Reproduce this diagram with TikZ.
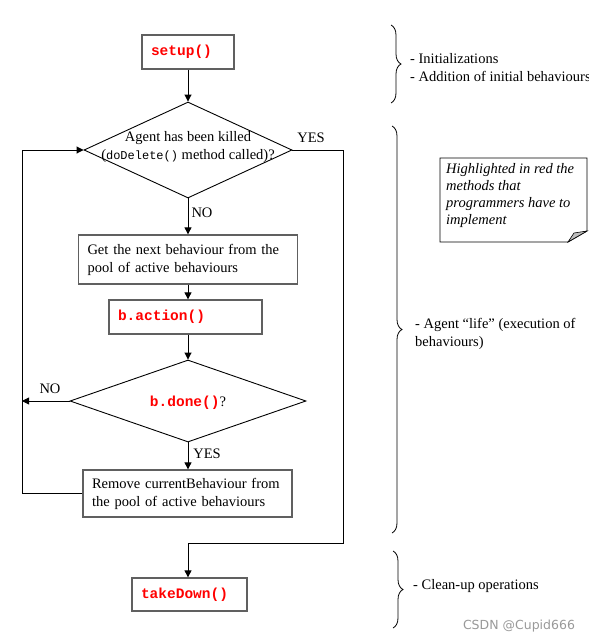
\documentclass[tikz,border=0pt]{standalone}
\usepackage{fontspec}
\setmainfont{Liberation Serif}
\setmonofont{Liberation Mono}
\newfontfamily\markfont{DejaVu Sans}
\usepackage{tikz}
\usetikzlibrary{shapes.geometric,arrows.meta,decorations.pathreplacing}
\definecolor{method}{RGB}{255,0,0}
\definecolor{boxline}{RGB}{96,96,96}
\newcommand{\meth}[1]{\textcolor{method}{\ttfamily\bfseries #1}}

\begin{document}
\begin{tikzpicture}[x=1pt,y=-1pt,
	every node/.style={font=\fontsize{14.5}{18}\selectfont,inner sep=0pt},
	box/.style={draw=boxline,line width=1.3pt,inner xsep=9pt,align=left},
	decision/.style={diamond,draw=black,line width=0.9pt},
	link/.style={line width=0.9pt,-{Triangle[length=7pt,width=7pt]}},
	curly/.style={decorate,decoration={brace,amplitude=10pt},line width=0.8pt}]
		    \useasboundingbox (0,0) rectangle (589,643);
	
		    \node[box,minimum width=92,minimum height=34,text width=74] (setup) at (188,52) {\meth{setup()}};
		
		    \node[decision,minimum width=208,minimum height=96] (killed) at (188,150) {};
		    \node[align=center] (killtext) at (188,147) {Agent has been killed\\({\fontsize{12}{18}\selectfont\ttfamily doDelete()} method called)?};
		    \node (yes1) at (311,138) {YES};
		    \node (no1) at (202,213) {NO};
		
		    \node[box,minimum width=219,minimum height=49,text width=201] (next) at (188,259.5) {Get the next behaviour from the\\pool of active behaviours};
		    \node[box,minimum width=153,minimum height=34,text width=135] (action) at (185.5,317) {\meth{b.action()}};
		
		    \node[decision,minimum width=236,minimum height=82] (done) at (188,401) {};
		    \node (donetext) at (188,403) {\meth{b.done()}?};
		    \node (no2) at (50,389) {NO};
		    \node (yes2) at (207,454) {YES};
		
		    \node[box,minimum width=209,minimum height=47,text width=191] (remove) at (187.5,493.5) {Remove currentBehaviour from\\the pool of active behaviours};
		    \node[box,minimum width=115,minimum height=33,text width=97] (takedown) at (189.5,594.5) {\meth{takeDown()}};
		
		    \coordinate (loop) at (22,493.5);
		    \coordinate (exit) at (343,543);
		    \coordinate (skip) at (22,401);
		
		    \draw[link] (setup.south) -- (killed.north);
		    \draw[link] (killed.south) -- (killed.south |- next.north);
		    \draw[link] (killed.south |- next.south) -- (killed.south |- action.north);
		    \draw[link] (done.north |- action.south) -- (done.north);
		    \draw[link] (done.south) -- (done.south |- remove.north);
		    \draw[link] (done.west) -- (skip);
		    \draw[link] (remove.west) -- (loop) |- (killed.west);
		    \draw[link] (killed.east) -| (exit) -| (killed.south |- takedown.north);
		
		    \draw[curly] (391,25) -- (391,103);
		    \draw[curly] (392,126) -- (392,533);
		    \draw[curly] (393,551) -- (393,628);
		
		    \node[anchor=west,align=left] (initlabel) at (410,68) {- Initializations\\- Addition of initial behaviours};
		    \node[anchor=west,align=left] (lifelabel) at (415,334) {- Agent “life” (execution of\\behaviours)};
		    \node[anchor=west] (cleanlabel) at (413,586) {- Clean-up operations};
		
		    \draw[line width=0.9pt] (440,158) -- (587,158) -- (587,231) -- (568,242) -- (440,242) -- cycle;
		    \draw[line width=0.6pt,fill=black!25] (568,242) -- (574,233) -- (587,231) -- cycle;
		    \node[anchor=north west,align=left,font=\fontsize{14.5}{17}\selectfont\itshape] (note) at (446,163) {Highlighted in red the\\methods that\\programmers have to\\implement};
		
		    \node[font=\markfont\fontsize{12.5}{13}\selectfont,text=black!40] (mark) at (519,626) {CSDN @Cupid666};
	    \end{tikzpicture}
\end{document}
